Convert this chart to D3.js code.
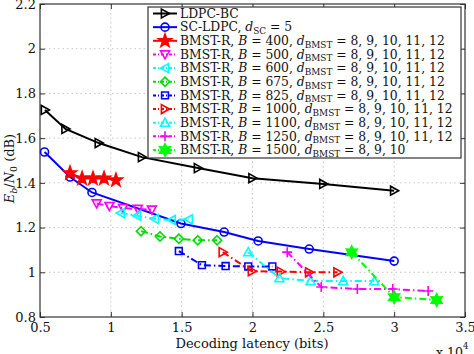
<!DOCTYPE html>
<html>
<head>
<meta charset="utf-8">
<script src="https://cdn.jsdelivr.net/npm/d3@7"></script>
<style>
  body { margin: 0; background: #fff; }
  svg text { font-family: "DejaVu Serif", serif; fill: #111; }
</style>
</head>
<body>
<div id="chart"></div>
<script>
// x values in units of 10^4 bits, y in dB
const ldpcX = [0.535, 0.68, 0.915, 1.22, 1.615, 2.0, 2.5, 3.0];
const ldpcY = [1.726, 1.641, 1.578, 1.515, 1.466, 1.421, 1.395, 1.365];
const scX = [0.532, 0.712, 0.867, 1.495, 1.80, 2.04, 2.40, 3.0];
const scY = [1.538, 1.426, 1.357, 1.218, 1.18, 1.14, 1.104, 1.05];
const b400X = [0.712, 0.797, 0.874, 0.952, 1.036];
const b400Y = [1.444, 1.42, 1.42, 1.42, 1.412];
const b500X = [0.90, 0.99, 1.086, 1.19, 1.29];
const b500Y = [1.308, 1.296, 1.287, 1.283, 1.28];
const b600X = [1.07, 1.185, 1.31, 1.43, 1.55];
const b600Y = [1.265, 1.253, 1.239, 1.234, 1.237];
const b675X = [1.213, 1.347, 1.48, 1.614, 1.75];
const b675Y = [1.184, 1.16, 1.15, 1.143, 1.143];
const b825X = [1.48, 1.643, 1.81, 1.97, 2.14];
const b825Y = [1.095, 1.032, 1.028, 1.026, 1.026];
const b1000X = [1.79, 1.996, 2.2, 2.4, 2.6];
const b1000Y = [1.09, 1.005, 1.003, 1.0, 1.0];
const b1100X = [1.97, 2.19, 2.41, 2.64, 2.86];
const b1100Y = [1.09, 0.974, 0.961, 0.961, 0.961];
const b1250X = [2.245, 2.485, 2.74, 2.99, 3.24];
const b1250Y = [1.09, 0.934, 0.925, 0.925, 0.916];
const b1500X = [2.7, 3.0, 3.3];
const b1500Y = [1.09, 0.889, 0.876];

const xTicks = [0.5, 1, 1.5, 2, 2.5, 3, 3.5];
const yTicks = [0.8, 1, 1.2, 1.4, 1.6, 1.8, 2, 2.2];

const series = [
  {x: ldpcX, y: ldpcY, color: "#000000", marker: "right", fill: false, dash: null, label: [["LDPC-BC"]]},
  {x: scX, y: scY, color: "#0000ff", marker: "circle", fill: false, dash: null, label: [["SC-LDPC, "], ["d", "i"], ["SC", "sub"], [" = 5"]]},
  {x: b400X, y: b400Y, color: "#ff0000", marker: "pentagram", fill: true, dash: null, B: "400", d: "8, 9, 10, 11, 12"},
  {x: b500X, y: b500Y, color: "#ff00ff", marker: "down", fill: false, dash: "dd", B: "500", d: "8, 9, 10, 11, 12"},
  {x: b600X, y: b600Y, color: "#00ffff", marker: "left", fill: false, dash: "dd", B: "600", d: "8, 9, 10, 11, 12"},
  {x: b675X, y: b675Y, color: "#00dd00", marker: "diamond", fill: false, dash: "dd", B: "675", d: "8, 9, 10, 11, 12"},
  {x: b825X, y: b825Y, color: "#0000ff", marker: "square", fill: false, dash: "dd", B: "825", d: "8, 9, 10, 11, 12"},
  {x: b1000X, y: b1000Y, color: "#ff0000", marker: "right", fill: false, dash: "dd", B: "1000", d: "8, 9, 10, 11, 12"},
  {x: b1100X, y: b1100Y, color: "#00ffff", marker: "up", fill: false, dash: "dd", B: "1100", d: "8, 9, 10, 11, 12"},
  {x: b1250X, y: b1250Y, color: "#ff00ff", marker: "plus", fill: false, dash: "dd", B: "1250", d: "8, 9, 10, 11, 12"},
  {x: b1500X, y: b1500Y, color: "#00ff00", marker: "hexagram", fill: true, dash: "dd", B: "1500", d: "8, 9, 10"}
];

const params = {
  width: 474,
  height: 354,
  left: 40,
  right: 465,
  top: 4,
  bottom: 317,
  font: "'DejaVu Serif', serif",
  fontSize: 12.5
};

const svg = d3.select("#chart")
  .append("svg")
  .attr("width", params.width)
  .attr("height", params.height)
  .attr("font-family", params.font);

const xScale = d3.scaleLinear().domain([0.5, 3.5]).range([params.left, params.right]);
const yScale = d3.scaleLinear().domain([0.8, 2.2]).range([params.bottom, params.top]);

// grid
const grid = svg.append("g");
grid.selectAll(".gx").data(xTicks.slice(1, -1)).enter().append("line")
  .attr("x1", d => xScale(d)).attr("x2", d => xScale(d))
  .attr("y1", params.top).attr("y2", params.bottom)
  .attr("stroke", "#c4c4c4").attr("stroke-dasharray", "1.5,3");
grid.selectAll(".gy").data(yTicks.slice(1, -1)).enter().append("line")
  .attr("x1", params.left).attr("x2", params.right)
  .attr("y1", d => yScale(d)).attr("y2", d => yScale(d))
  .attr("stroke", "#c4c4c4").attr("stroke-dasharray", "1.5,3");

// axes (MATLAB style, ticks inward, all four sides)
const tickLen = 5;
svg.append("g").attr("transform", `translate(0,${params.bottom})`)
  .call(d3.axisBottom(xScale).tickValues(xTicks).tickSizeInner(-tickLen).tickSizeOuter(0).tickPadding(6).tickFormat(d3.format("")));
svg.append("g").attr("transform", `translate(0,${params.top})`)
  .call(d3.axisTop(xScale).tickValues(xTicks).tickSizeInner(-tickLen).tickSizeOuter(0).tickFormat(""));
svg.append("g").attr("transform", `translate(${params.left},0)`)
  .call(d3.axisLeft(yScale).tickValues(yTicks).tickSizeInner(-tickLen).tickSizeOuter(0).tickPadding(4).tickFormat(d3.format("")));
svg.append("g").attr("transform", `translate(${params.right},0)`)
  .call(d3.axisRight(yScale).tickValues(yTicks).tickSizeInner(-tickLen).tickSizeOuter(0).tickFormat(""));
svg.selectAll(".domain").remove();
svg.selectAll("g").attr("font-family", params.font);
svg.selectAll(".tick line").attr("stroke", "#333");
svg.selectAll(".tick text")
  .attr("font-size", params.fontSize + 0.5)
  .attr("fill", "#111");

svg.append("rect")
  .attr("x", params.left).attr("y", params.top)
  .attr("width", params.right - params.left).attr("height", params.bottom - params.top)
  .attr("fill", "none").attr("stroke", "#333").attr("stroke-width", 1.2);

// marker shapes
function markerPath(type) {
  const s = 4.5;
  const poly = pts => "M" + pts.map(p => p.join(",")).join("L") + "Z";
  const star = (n, ro, ri) => {
    const pts = [];
    for (let k = 0; k < 2 * n; k++) {
      const a = -Math.PI / 2 + k * Math.PI / n;
      const r = k % 2 === 0 ? ro : ri;
      pts.push([r * Math.cos(a), r * Math.sin(a)]);
    }
    return poly(pts);
  };
  switch (type) {
    case "right": return poly([[s, 0], [-s * 0.8, -s], [-s * 0.8, s]]);
    case "left": return poly([[-s, 0], [s * 0.8, -s], [s * 0.8, s]]);
    case "up": return poly([[0, -s], [-s, s * 0.8], [s, s * 0.8]]);
    case "down": return poly([[0, s], [-s, -s * 0.8], [s, -s * 0.8]]);
    case "circle": return d3.symbol(d3.symbolCircle, 50)();
    case "square": return poly([[-3.4, -3.4], [3.4, -3.4], [3.4, 3.4], [-3.4, 3.4]]);
    case "diamond": return poly([[0, -4.6], [4.6, 0], [0, 4.6], [-4.6, 0]]);
    case "plus": return "M-5,0H5M0,-5V5";
    case "pentagram": return star(5, 6.8, 2.7);
    case "hexagram": return star(6, 6.2, 3.4);
  }
}

const dashes = {dd: "7,3,1.5,3"};

const line = d3.line();
series.forEach(s => {
  const pts = s.x.map((v, i) => [xScale(v), yScale(s.y[i])]);
  svg.append("path")
    .attr("d", line(pts))
    .attr("fill", "none")
    .attr("stroke", s.color)
    .attr("stroke-width", 2)
    .attr("stroke-dasharray", s.dash ? dashes[s.dash] : null);
  svg.append("g").selectAll("path").data(pts).enter().append("path")
    .attr("transform", d => `translate(${d[0]},${d[1]})`)
    .attr("d", markerPath(s.marker))
    .attr("fill", s.fill ? s.color : "none")
    .attr("stroke", s.color)
    .attr("stroke-width", 1.6);
});

// legend
const leg = {x0: 148, y0: 7, x1: 461, y1: 158, rowTop: 13.5, rowGap: 13.65, textX: 180, textEnd: 453};
svg.append("rect")
  .attr("x", leg.x0).attr("y", leg.y0)
  .attr("width", leg.x1 - leg.x0).attr("height", leg.y1 - leg.y0)
  .attr("fill", "#fff").attr("stroke", "#333").attr("stroke-width", 1.2);

const legTexts = [];
series.forEach((s, i) => {
  const yc = leg.rowTop + i * leg.rowGap;
  svg.append("line")
    .attr("x1", 153).attr("x2", 177).attr("y1", yc).attr("y2", yc)
    .attr("stroke", s.color).attr("stroke-width", 2)
    .attr("stroke-dasharray", s.dash ? "3,2,1,2" : null);
  svg.append("path")
    .attr("transform", `translate(165,${yc})`)
    .attr("d", markerPath(s.marker))
    .attr("fill", s.fill ? s.color : "none")
    .attr("stroke", s.color).attr("stroke-width", 1.6);

  const parts = s.label || [["BMST-R, "], ["B", "i"], [` = ${s.B}, `], ["d", "i"], ["BMST", "sub"], [` = ${s.d}`]];
  const t = svg.append("text")
    .attr("x", leg.textX).attr("y", yc + 4.3)
    .attr("font-size", params.fontSize);
  let sub = false;
  parts.forEach(p => {
    const ts = t.append("tspan").text(p[0]);
    if (p[1] === "i") ts.attr("font-style", "italic");
    if (p[1] === "sub") { ts.attr("font-size", "72%").attr("dy", "0.3em"); sub = true; }
    else if (sub) { ts.attr("dy", "-0.22em"); sub = false; }
  });
  legTexts.push(t);
});
// fit the longest legend row to the box width
const maxW = d3.max(legTexts, t => t.node().getComputedTextLength());
const legFont = params.fontSize * (leg.textEnd - leg.textX) / maxW;
legTexts.forEach(t => t.attr("font-size", legFont));

// axis labels
svg.append("text")
  .attr("x", 252).attr("y", 348)
  .attr("text-anchor", "middle")
  .attr("font-size", params.fontSize + 0.5)
  .text("Decoding latency (bits)");

const yl = svg.append("text")
  .attr("transform", `translate(14,${(params.top + params.bottom) / 2 + 8}) rotate(-90)`)
  .attr("text-anchor", "middle")
  .attr("font-size", params.fontSize + 0.5);
yl.append("tspan").attr("font-style", "italic").text("E");
yl.append("tspan").attr("font-style", "italic").attr("font-size", "72%").attr("dy", "0.3em").text("b");
yl.append("tspan").attr("dy", "-0.22em").text("/");
yl.append("tspan").attr("font-style", "italic").text("N");
yl.append("tspan").attr("font-size", "72%").attr("dy", "0.3em").text("0");
yl.append("tspan").attr("dy", "-0.22em").text(" (dB)");

const ex = svg.append("text")
  .attr("x", 436).attr("y", 357)
  .attr("font-size", 12.5);
ex.append("tspan").text("x 10");
ex.append("tspan").attr("font-size", 8.5).attr("dy", -8).text("4");
</script>
</body>
</html>
